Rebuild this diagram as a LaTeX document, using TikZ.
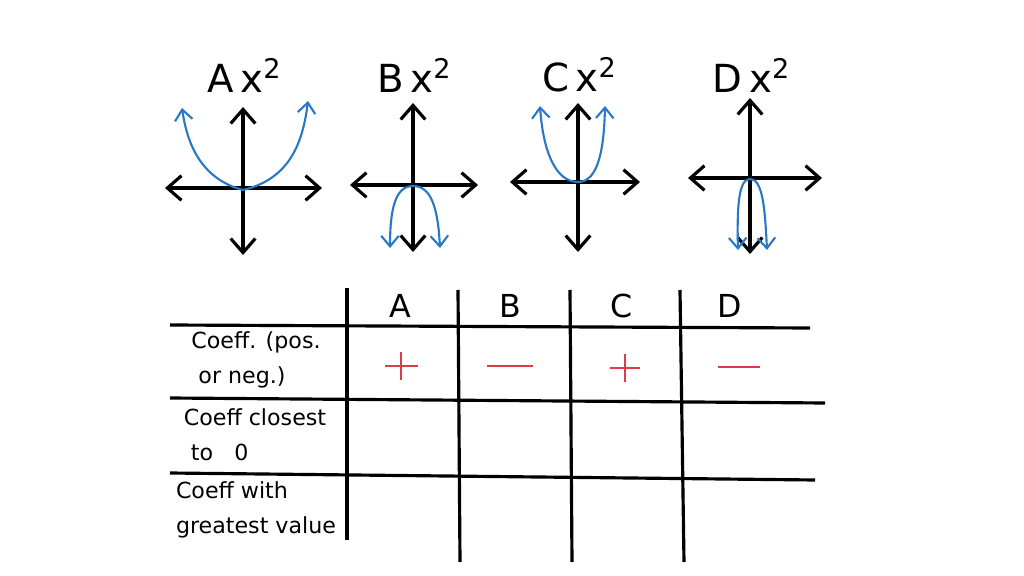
\documentclass[tikz,border=0pt]{standalone}
\usepackage{fontspec}
\setmainfont{DejaVu Sans}
\usetikzlibrary{arrows.meta}
\definecolor{blu}{RGB}{40,120,200}
\definecolor{rd}{RGB}{220,60,70}
\begin{document}
\begin{tikzpicture}[x=0.01cm,y=-0.01cm,
  ax/.style={line width=0.9pt,{Straight Barb[length=4pt,width=7pt]}-{Straight Barb[length=4pt,width=7pt]}},
  par/.style={blu,line width=0.6pt,-{Straight Barb[length=3pt,width=5pt]}},
  ln/.style={line width=0.9pt},
  ttl/.style={font=\fontsize{11}{13}\selectfont},
  hd/.style={font=\fontsize{9}{11}\selectfont},
  lab/.style={font=\fontsize{6.3}{10}\selectfont,align=left},
  mk/.style={rd,line width=0.6pt}]
\useasboundingbox (0,0) rectangle (1024,576);
% titles
\node[ttl] (tA) at (245,75) {A\,x\textsuperscript{2}};
\node[ttl] (tB) at (415,75) {B\,x\textsuperscript{2}};
\node[ttl] (tC) at (580,75) {C\,x\textsuperscript{2}};
\node[ttl] (tD) at (752,75) {D\,x\textsuperscript{2}};
% graph A
\draw[ax] (165,188) -- (322,188);
\draw[ax] (243,107) -- (243,255);
\draw[par] (243,190) .. controls (205,180) and (188,150) .. (182,108);
\draw[par] (243,190) .. controls (285,180) and (302,150) .. (308,101);
% graph B
\draw[ax] (350,185) -- (478,185);
\draw[ax] (413,103) -- (413,252);
\draw[par] (413,186) .. controls (395,186) and (390,210) .. (390,248);
\draw[par] (413,186) .. controls (432,186) and (438,210) .. (440,248);
% graph C
\draw[ax] (510,182) -- (640,182);
\draw[ax] (578,103) -- (578,252);
\draw[par] (578,182) .. controls (555,182) and (543,150) .. (540,106);
\draw[par] (578,182) .. controls (598,182) and (604,150) .. (605,106);
% graph D
\draw[ax] (688,178) -- (822,178);
\draw[ax] (750,98) -- (750,254);
\draw[par] (750,179) .. controls (738,179) and (737,210) .. (738,250);
\draw[par] (750,179) .. controls (763,179) and (765,210) .. (767,250);
% table
\draw[ln] (170,325) -- (810,328);
\draw[ln] (170,398) -- (825,403);
\draw[ln] (170,473) -- (815,480);
\draw[ln] (347,288) -- (347,540);
\draw[ln] (458,290) -- (460,562);
\draw[ln] (570,290) -- (572,562);
\draw[ln] (680,290) -- (684,562);
\node[hd] (hA) at (400,306) {A};
\node[hd] (hB) at (510,306) {B};
\node[hd] (hC) at (622,306) {C};
\node[hd] (hD) at (730,306) {D};
\node[lab] (r1) at (256,360) {Coeff. (pos.\\ \ or neg.)};
\node[lab] (r2) at (255,435) {Coeff closest\\ \ to \ \ 0};
\node[lab] (r3) at (256,510) {Coeff with\\greatest value};
% marks
\draw[mk] (385,366) -- (418,366) (401,352) -- (401,380);
\draw[mk] (487,366) -- (533,366);
\draw[mk] (610,368) -- (640,368) (625,354) -- (625,382);
\draw[mk] (718,367) -- (760,367);
\end{tikzpicture}
\end{document}
